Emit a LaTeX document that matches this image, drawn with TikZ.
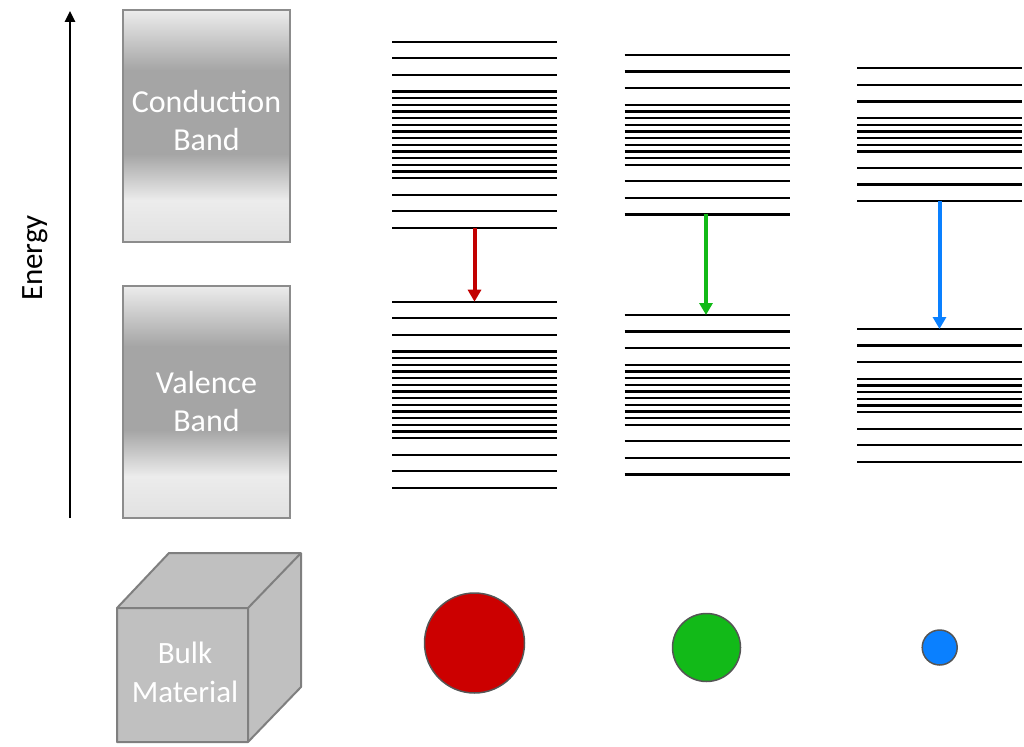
\documentclass[tikz,border=0pt]{standalone}
\usepackage{fontspec}
\setmainfont{Carlito}
\usepackage{tikz}
\usetikzlibrary{arrows.meta}
\definecolor{bandedge}{RGB}{140,140,140}
\definecolor{bandlight}{RGB}{236,236,236}
\definecolor{banddark}{RGB}{165,165,165}
\definecolor{cubefill}{RGB}{192,192,192}
\definecolor{cubeedge}{RGB}{127,127,127}
\definecolor{qdred}{RGB}{204,0,0}
\definecolor{qdgreen}{RGB}{18,186,24}
\definecolor{qdblue}{RGB}{10,128,255}
\definecolor{dotedge}{RGB}{85,85,85}
\pgfdeclareverticalshading{bandfill}{100bp}{color(0bp)=(bandlight!85!banddark);
  color(25bp)=(bandlight!85!banddark); color(34bp)=(bandlight); color(44bp)=(banddark);
  color(62bp)=(banddark); color(75bp)=(bandlight); color(100bp)=(bandlight)}
\newcommand{\outgap}{16.6}
\newcommand{\densegap}{6.66}
% #1 left x, #2 top y, #3 number of closely spaced levels
\newcommand{\levelstack}[3]{%
  \foreach \k in {0,1,2} {
    \draw[level] (#1,#2+\k*\outgap) -- ++(165,0);
    \draw[level] (#1,#2+\k*\outgap+4*\outgap+#3*\densegap-\densegap) -- ++(165,0);
  }
  \foreach \k in {1,...,#3}
    \draw[level] (#1,#2+3*\outgap+\k*\densegap-\densegap) -- ++(165,0);
}

\begin{document}
\begin{tikzpicture}[
  x=1pt, y=-1pt,
  level/.style={line width=2.3pt, black},
  band/.style={draw=bandedge, line width=2pt, shade, shading=bandfill,
               minimum width=167pt, minimum height=232pt, inner sep=0pt,
               align=center, text=white, font=\fontsize{32}{38}\selectfont},
  cube/.style={draw=cubeedge, fill=cubefill, line width=2pt, line join=round},
  dot/.style={circle, draw=dotedge, line width=1.5pt, inner sep=0pt},
  gaparr/.style={line width=4pt, -{Triangle[length=12pt,width=13pt]}},
]
\useasboundingbox (0,0) rectangle (1024,746);

% energy axis
\coordinate (ebot) at (70,518);
\coordinate (etop) at (70,11);
\draw[line width=2.5pt, -{Triangle[length=11pt,width=10pt]}] (ebot) -- (etop);
\node[rotate=90, font=\fontsize{31}{37}\selectfont] (energy) at (34.8,258) {Energy};

% bulk bands
\node[band, text depth=12pt] (cband) at (206.5,126) {Conduction\\Band};
\node[band] (vband) at (206.5,402) {Valence\\Band};

% discrete levels
\levelstack{392}{41.7}{14}
\levelstack{392}{301.7}{14}
\levelstack{624.5}{55}{10}
\levelstack{624.5}{315}{10}
\levelstack{857}{68.3}{6}
\levelstack{857}{329}{6}

\coordinate (cb1) at (474.5,227.7);
\coordinate (vb1) at (474.5,301.7);
\coordinate (cb2) at (706,213.7);
\coordinate (vb2) at (706,315);
\coordinate (cb3) at (939.5,200.7);
\coordinate (vb3) at (939.5,329);
\draw[gaparr, qdred!95!black] (cb1) -- (vb1);
\draw[gaparr, qdgreen] (cb2) -- (vb2);
\draw[gaparr, qdblue] (cb3) -- (vb3);

% bulk cube
\filldraw[cube] (117,608) -- (169,553) -- (301,553) -- (301,687) -- (248,742) -- (117,742) -- cycle;
\draw[cube, fill=none] (117,608) -- (248,608) -- (301,553) (248,608) -- (248,742);
\node[align=center, text=white, font=\fontsize{31}{39}\selectfont] (bulk) at (185,672) {Bulk\\Material};

% quantum dots
\node[dot, fill=qdred, minimum size=100pt] (qdr) at (474.5,643) {};
\node[dot, fill=qdgreen, minimum size=68pt] (qdg) at (706.5,647.5) {};
\node[dot, fill=qdblue, minimum size=35pt] (qdb) at (939.7,647.5) {};
\end{tikzpicture}
\end{document}
